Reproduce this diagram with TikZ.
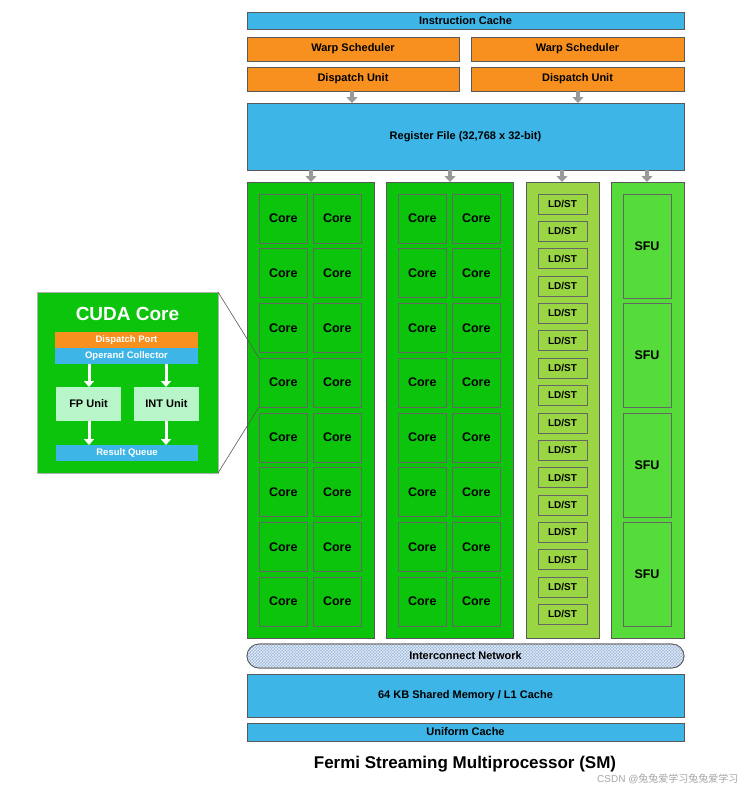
\documentclass[tikz,border=0pt]{standalone}
\usepackage{fontspec}
\setmainfont{Liberation Sans}
\newfontfamily\cjk{Noto Sans CJK SC}
\usetikzlibrary{patterns,arrows.meta}
\definecolor{cblue}{HTML}{3DB5E6}
\definecolor{corange}{HTML}{F7901E}
\definecolor{cgreen}{HTML}{0CC40C}
\definecolor{cldst}{HTML}{9AD644}
\definecolor{csfu}{HTML}{55DB3A}
\definecolor{cnet}{HTML}{9CB8DC}
\definecolor{cmint}{HTML}{B8F5C8}
\begin{document}
\begin{tikzpicture}[x=1pt,y=-1pt,
 box/.style={draw=gray!70!black,line width=0.7pt,font=\bfseries\fontsize{11}{12}\selectfont,inner sep=0},
 blue/.style={box,fill=cblue},
 orange/.style={box,fill=corange},
 core/.style={draw=black!60,line width=0.6pt,fill=cgreen,font=\bfseries\fontsize{12.5}{13}\selectfont},
 ld/.style={draw=black!60,line width=0.6pt,fill=cldst,font=\bfseries\fontsize{10}{11}\selectfont},
 garrow/.style={draw=gray!80,line width=3.5pt,-{Triangle[length=6pt,width=11pt]}},
 warrow/.style={draw=white,line width=3pt,-{Triangle[length=6pt,width=10pt]}},
 intext/.style={text=white,font=\bfseries\fontsize{9.5}{10}\selectfont}]
\useasboundingbox (0,0) rectangle (745,793);
\fill[white] (0,0) rectangle (745,793);
% top
\draw[blue] (247,12) rectangle (684,29) node[midway] (ic){Instruction Cache};
\draw[orange] (247,37) rectangle (459,61) node[midway] (ws1){Warp Scheduler};
\draw[orange] (471,37) rectangle (684,61) node[midway] (ws2){Warp Scheduler};
\draw[orange] (247,67) rectangle (459,91) node[midway] (du1){Dispatch Unit};
\draw[orange] (471,67) rectangle (684,91) node[midway] (du2){Dispatch Unit};
\draw[blue] (247,103) rectangle (684,170) node[midway] (rf){Register File (32,768 x 32-bit)};
\coordinate (a1) at (352,91); \coordinate (b1) at (352,103);
\coordinate (a2) at (578,91); \coordinate (b2) at (578,103);
\draw[garrow] (a1) -- (b1); \draw[garrow] (a2) -- (b2);
\foreach \x in {311,450,562,647}{\coordinate (t\x) at (\x,170); \coordinate (u\x) at (\x,182); \draw[garrow] (t\x) -- (u\x);}
% columns
\draw[box,fill=cgreen] (247,182) rectangle (374,638);
\draw[box,fill=cgreen] (386,182) rectangle (513,638);
\draw[box,fill=cldst] (526,182) rectangle (599,638);
\draw[box,fill=csfu] (611,182) rectangle (684,638);
\foreach \i in {0,...,7}{
 \pgfmathsetmacro{\yt}{194+54.7*\i}
 \foreach \x in {259,313,398,452}{
  \draw[core] (\x,\yt) rectangle ++(48.5,49) node[midway,draw=none,fill=none]{Core};}}
\foreach \i in {0,...,15}{
 \pgfmathsetmacro{\yc}{204+27.35*\i}
 \draw[ld] (538,\yc-10) rectangle (587,\yc+10) node[midway,draw=none,fill=none]{LD/ST};}
\foreach \i in {0,...,3}{
 \pgfmathsetmacro{\yt}{194+109.4*\i}
 \draw[core,fill=csfu] (623,\yt) rectangle ++(48,104) node[midway,draw=none,fill=none]{SFU};}
% bottom
\draw[box,fill=cnet,rounded corners=12pt] (247,644) rectangle (684,668);
\begin{scope}
\clip[rounded corners=12pt] (247,644) rectangle (684,668);
\fill[pattern=crosshatch,pattern color=white!75!cnet] (247,644) rectangle (684,668);
\end{scope}
\draw[box,rounded corners=12pt] (247,644) rectangle (684,668) node[midway] (net){Interconnect Network};
\draw[blue] (247,674) rectangle (684,717) node[midway] (sm){64 KB Shared Memory / L1 Cache};
\draw[blue] (247,723) rectangle (684,741) node[midway] (uc){Uniform Cache};
\node[font=\bfseries\fontsize{17}{18}\selectfont] (title) at (465,764) {Fermi Streaming Multiprocessor (SM)};
\node[text=gray!70,font=\fontsize{10}{11}\selectfont,anchor=east] (wm) at (742,779) {CSDN @{\cjk 兔兔爱学习兔兔爱学习}};
% CUDA core inset
\draw[draw=black!30,fill=cgreen] (37,292) rectangle (218,473);
\node[text=white,font=\bfseries\fontsize{19}{20}\selectfont] (cc) at (127.5,314) {CUDA Core};
\fill[corange] (55,332) rectangle (198,348); \node[intext] (dp) at (126.5,340) {Dispatch Port};
\fill[cblue] (55,348) rectangle (198,364); \node[intext] (oc) at (126.5,356) {Operand Collector};
\fill[cmint] (56,387) rectangle (121,421); \node[font=\bfseries\fontsize{11}{12}\selectfont] (fp) at (88.5,404) {FP Unit};
\fill[cmint] (134,387) rectangle (199,421); \node[font=\bfseries\fontsize{11}{12}\selectfont] (int) at (166.5,404) {INT Unit};
\fill[cblue] (56,445) rectangle (198,461); \node[intext] (rq) at (127,453) {Result Queue};
\foreach \x in {89,166}{
 \coordinate (p\x) at (\x,364); \coordinate (q\x) at (\x,387);
 \coordinate (r\x) at (\x,421); \coordinate (s\x) at (\x,445);
 \draw[warrow] (p\x) -- (q\x); \draw[warrow] (r\x) -- (s\x);}
\coordinate (z1) at (218,292); \coordinate (z2) at (259,358);
\coordinate (z3) at (218,473); \coordinate (z4) at (259,407);
\draw[gray!70!black,line width=0.6pt] (z1) -- (z2) (z3) -- (z4);
\end{tikzpicture}
\end{document}
